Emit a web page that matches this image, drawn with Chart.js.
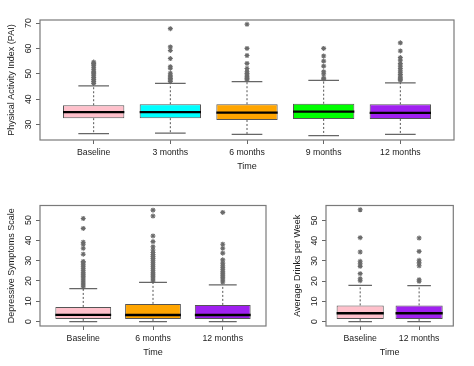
<!DOCTYPE html>
<html><head><meta charset="utf-8">
<script src="https://cdn.jsdelivr.net/npm/chart.js@4/dist/chart.umd.min.js"></script>
<style>
html,body{margin:0;padding:0;background:#fff;width:474px;height:366px;overflow:hidden;}
canvas{position:absolute;}
</style></head><body>
<canvas id="c1" width="474" height="180" style="left:0;top:0;width:474px;height:180px"></canvas>
<canvas id="c2" width="280" height="186" style="left:0;top:180px;width:280px;height:186px"></canvas>
<canvas id="c3" width="188" height="186" style="left:286px;top:180px;width:188px;height:186px"></canvas>
<script>
// ---- Panel 1: Physical Activity Index ----
const paiCats = ['Baseline', '3 months', '6 months', '9 months', '12 months'];
const paiLow  = [26.4, 26.6, 26.1, 25.6, 26.1];
const paiQ1   = [32.5, 32.5, 31.8, 32.2, 32.2];
const paiMed  = [34.9, 34.9, 34.7, 35.1, 34.6];
const paiQ3   = [37.6, 38.0, 38.0, 38.2, 38.0];
const paiHigh = [45.2, 46.2, 46.9, 47.4, 46.4];
const paiOut  = [
  [46.2, 47.0, 47.8, 48.6, 49.4, 50.0, 50.4, 51.0, 51.8, 52.6, 53.4, 54.0, 54.6],
  [47.0, 47.6, 48.2, 48.8, 49.4, 50.2, 52.2, 52.8, 56.0, 59.2, 60.6, 67.8],
  [47.6, 48.2, 48.8, 49.5, 50.1, 50.8, 52.1, 54.1, 57.2, 60.0, 69.5],
  [47.9, 48.3, 49.9, 50.8, 53.0, 55.0, 57.0, 60.0],
  [47.5, 47.9, 48.4, 49.1, 49.7, 50.4, 51.2, 52.1, 53.0, 54.0, 55.4, 56.4, 59.0, 62.2]
];
const paiColors = ['#FFC0CB', '#00FFFF', '#FFA500', '#00FF00', '#A020F0'];

// ---- Panel 2: Depressive Symptoms Scale ----
const depCats = ['Baseline', '6 months', '12 months'];
const depLow  = [0, 0, 0];
const depQ1   = [1.3, 1.2, 1.2];
const depMed  = [3.3, 3.2, 3.2];
const depQ3   = [7.2, 8.7, 8.2];
const depHigh = [16.2, 19.3, 18.1];
const depOut  = [
  [17, 18, 19, 20, 21, 22, 23, 24, 25, 26, 27, 28, 29, 29.6, 33.2, 36.1, 38.1, 39.1, 45.9, 50.8],
  [20, 21, 22, 23, 24, 25, 26, 27, 28, 29, 30, 31, 32, 33, 34, 35.3, 36.9, 39.4, 42.2, 52, 54.9],
  [19.5, 20.5, 21.5, 22.5, 23.5, 24.5, 25.5, 26.5, 27.5, 28.8, 30.4, 33.7, 36.1, 38.1, 53.8]
];
const depColors = ['#FFC0CB', '#FFA500', '#A020F0'];

// ---- Panel 3: Average Drinks per Week ----
const drkCats = ['Baseline', '12 months'];
const drkLow  = [0, 0];
const drkQ1   = [1.3, 1.3];
const drkMed  = [4.1, 4.1];
const drkQ3   = [8.0, 8.0];
const drkHigh = [17.9, 17.8];
const drkOut  = [
  [20.2, 21.2, 23.7, 27.3, 28.6, 29.8, 34.4, 41.5, 55.3],
  [19.9, 20.7, 27.6, 29.0, 30.3, 34.7, 41.3]
];
const drkColors = ['#FFC0CB', '#A020F0'];

const TEXT = '#222';
const GREY = '#7a7a7a';
const FONT = '"Liberation Sans", Arial, sans-serif';

const framePlugin = {
  id: 'rframe',
  afterDraw(chart) {
    const {ctx, chartArea: a} = chart;
    ctx.save();
    ctx.strokeStyle = GREY;
    ctx.lineWidth = 1.2;
    ctx.strokeRect(a.left, a.top, a.right - a.left, a.bottom - a.top);
    // rotated y tick labels (R style)
    const ys = chart.scales.y;
    ctx.fillStyle = TEXT;
    ctx.font = '8.7px ' + FONT;
    ctx.textAlign = 'center';
    ctx.textBaseline = 'middle';
    ys.ticks.forEach(t => {
      const py = ys.getPixelForValue(t.value);
      ctx.save();
      ctx.translate(a.left - 11, py);
      ctx.rotate(-Math.PI / 2);
      ctx.fillText(String(t.value), 0, 0);
      ctx.restore();
    });
    ctx.restore();
  }
};

function boxChart(id, cats, low, q1, med, q3, high, outs, colors, yMin, yMax, yTitle, pad) {
  const idx = cats.map((c, i) => i + 1);
  const boxes = idx.map((x, i) => ({x, y: [q1[i], q3[i]]}));
  const whisk = [], caps = [], meds = [], pts = [];
  idx.forEach((x, i) => {
    whisk.push({x, y: q3[i]}, {x, y: high[i]}, {x: x + 0.5, y: null},
               {x, y: q1[i]}, {x, y: low[i]}, {x: x + 0.5, y: null});
    caps.push({x: x - 0.2, y: high[i]}, {x: x + 0.2, y: high[i]}, {x: x + 0.5, y: null},
              {x: x - 0.2, y: low[i]}, {x: x + 0.2, y: low[i]}, {x: x + 0.5, y: null});
    meds.push({x: x - 0.4, y: med[i]}, {x: x + 0.4, y: med[i]}, {x: x + 0.5, y: null});
    outs[i].forEach(v => pts.push({x, y: v}));
  });
  const n = cats.length;
  const ext = 0.04 * n;
  new Chart(document.getElementById(id), {
    type: 'bar',
    data: {
      datasets: [
        {type: 'line', data: meds, borderColor: '#000', borderWidth: 2.4, pointRadius: 0, order: 0},
        {type: 'bar', data: boxes, backgroundColor: colors, borderColor: '#555', borderWidth: 1,
         borderSkipped: false, categoryPercentage: 1, barPercentage: 0.8, order: 1},
        {type: 'line', data: whisk, borderColor: '#555', borderWidth: 1, borderDash: [2, 2],
         pointRadius: 0, order: 2},
        {type: 'line', data: caps, borderColor: '#666', borderWidth: 1.2, pointRadius: 0, order: 2},
        {type: 'scatter', data: pts, pointStyle: 'star', radius: 2.5, borderColor: '#6a6a6a',
         backgroundColor: '#6a6a6a', borderWidth: 1.1, order: 3}
      ]
    },
    options: {
      responsive: false,
      animation: false,
      devicePixelRatio: 1,
      layout: {padding: pad},
      plugins: {legend: {display: false}, tooltip: {enabled: false}},
      scales: {
        x: {
          type: 'linear',
          offset: false,
          min: 0.5 - ext, max: n + 0.5 + ext,
          afterBuildTicks: s => { s.ticks = idx.map(v => ({value: v})); },
          afterFit: s => { s.height = 40; },
          ticks: {callback: v => cats[Math.round(v) - 1], color: TEXT, autoSkip: false,
                  maxRotation: 0, padding: 3, font: {family: FONT, size: 8.7}},
          grid: {offset: false, drawOnChartArea: false, drawTicks: true, tickLength: 4, color: '#666'},
          border: {display: false},
          title: {display: true, text: 'Time', color: TEXT, padding: {top: 0, bottom: 7.9},
                  font: {family: FONT, size: 9}}
        },
        y: {
          type: 'linear',
          min: yMin, max: yMax,
          afterFit: s => { s.width = 40; },
          ticks: {stepSize: 10, includeBounds: false, color: 'rgba(0,0,0,0)',
                  font: {family: FONT, size: 8.7}},
          grid: {drawOnChartArea: false, drawTicks: true, tickLength: 4, color: '#666'},
          border: {display: false},
          title: {display: true, text: yTitle, color: TEXT, padding: {top: 6.3, bottom: 0},
                  font: {family: FONT, size: 9}}
        }
      }
    },
    plugins: [framePlugin]
  });
}

boxChart('c1', paiCats, paiLow, paiQ1, paiMed, paiQ3, paiHigh, paiOut, paiColors,
         23.9, 71.2, 'Physical Activity Index (PAI)', {top: 20, right: 20, left: 0, bottom: 0});
boxChart('c2', depCats, depLow, depQ1, depMed, depQ3, depHigh, depOut, depColors,
         -2.2, 57.2, 'Depressive Symptoms Scale', {top: 25.5, right: 14, left: 0, bottom: 0});
boxChart('c3', drkCats, drkLow, drkQ1, drkMed, drkQ3, drkHigh, drkOut, drkColors,
         -2.2, 57.4, 'Average Drinks per Week', {top: 25.5, right: 20.7, left: 0, bottom: 0});
</script>
</body></html>
